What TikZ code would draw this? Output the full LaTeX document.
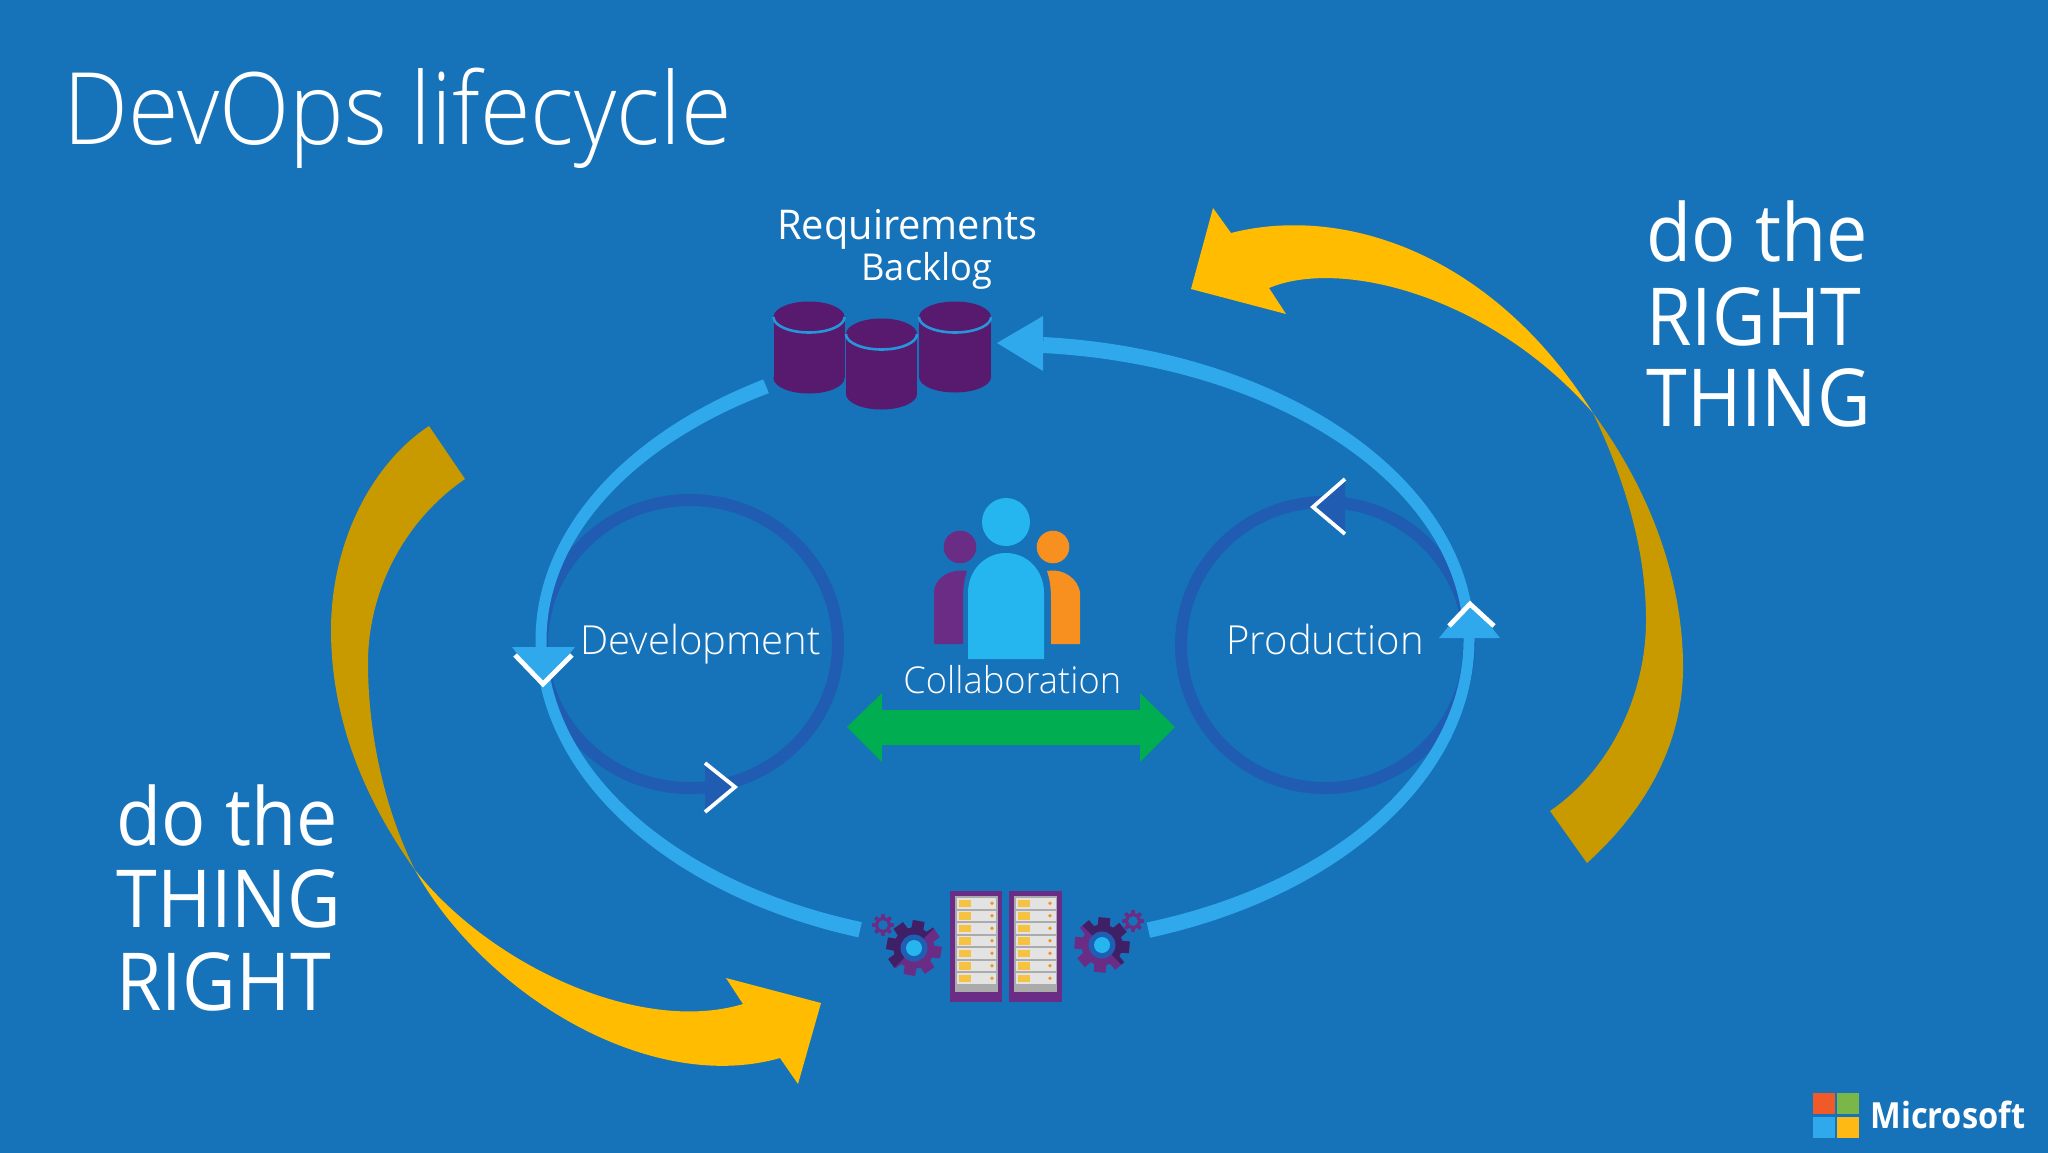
\documentclass[tikz,border=0pt]{standalone}
\usepackage{fontspec}
\usepackage{graphicx}
\setmainfont{Open Sans}
\newfontfamily\lightfont{Open Sans Light}
\definecolor{bgblue}{HTML}{1672B9}
\definecolor{sky}{HTML}{2FA9EC}
\definecolor{ringblue}{HTML}{1F5CB2}
\definecolor{goldbright}{HTML}{FFBC00}
\definecolor{golddark}{HTML}{C99A00}
\definecolor{cylpurple}{HTML}{581A6E}
\definecolor{rackpurple}{HTML}{6B2C85}
\definecolor{geardark}{HTML}{3F1F66}
\definecolor{peoplesky}{HTML}{25B6F0}
\definecolor{peopleorange}{HTML}{F7901E}
\definecolor{arrowgreen}{HTML}{00AD50}
\definecolor{slotyellow}{HTML}{F5C242}
\definecolor{panelgray}{HTML}{ABABAB}
\definecolor{rowgray}{HTML}{E3E3E3}
\definecolor{msred}{HTML}{F05A28}
\definecolor{msgreen}{HTML}{7AB648}
\definecolor{msyellow}{HTML}{FFB914}
\tikzset{
  ring line/.style={draw=ringblue,line width=6pt},
  chevron/.style={draw=white,line width=2.4pt,miter limit=10},
  chevron thin/.style={draw=white,line width=1.9pt,miter limit=10},
  label/.style={text=white,inner sep=0pt,anchor=base west},
  biglabel/.style={label,font=\fontsize{40}{40}\selectfont},
  midlabel/.style={label,font=\lightfont\fontsize{20}{20}\selectfont}
}
% #1 b, #2 start angle, #3 end angle: a band along the big ellipse
\newcommand\cycleband[3]{%
  \fill[sky] plot[domain=#2:#3,samples=70,smooth,variable=\t] ({1005+469.5*cos(\t)},{640+(#1+8)*sin(\t)})
    -- plot[domain=#3:#2,samples=70,smooth,variable=\t] ({1005+458.5*cos(\t)},{640+(#1-8)*sin(\t)}) -- cycle;
}
\newcommand\cylinder[5]{%
  \fill[cylpurple] ({#1-#4},#2) rectangle ({#1+#4},#3);
  \fill[cylpurple] (#1,#2) ellipse [x radius=#4,y radius=#5];
  \fill[cylpurple] (#1,#3) ellipse [x radius=#4,y radius=#5];
  \draw[sky!65!bgblue,line width=1.3pt,domain=0:180,samples=30,smooth,variable=\t]
    plot ({#1+#4*cos(\t)},{#2+#5*sin(\t)});
}
\newcommand\gearbody[2]{%
  \fill[#1] (#2-17:20.5)
    \foreach \a in {0,45,...,315}{ -- (\a+#2-17:20.5) -- (\a+#2-12:28) -- (\a+#2+12:28) -- (\a+#2+17:20.5) } -- cycle;
}
\newcommand\biggear[4]{%
  \begin{scope}[shift={(#1,#2)}]
    \gearbody{rackpurple}{#3}
    \begin{scope}
      \clip (#4:60) -- (#4+90:60) -- (#4+180:60) -- cycle;
      \gearbody{geardark}{#3}
    \end{scope}
    \fill[ringblue!85!bgblue] (0,0) circle [radius=13.5];
    \fill[peoplesky] (0,0) circle [radius=8];
  \end{scope}
}
\newcommand\smallgear[2]{%
  \begin{scope}[shift={(#1,#2)}]
    \fill[rackpurple,even odd rule] (0:8)
      \foreach \a in {0,45,...,315}{ -- (\a-14:8) -- (\a-9:11) -- (\a+9:11) -- (\a+14:8) } -- cycle
      (0,0) circle [radius=5];
  \end{scope}
}
\newcommand\rack[8]{%
  \fill[rackpurple] (#1,891) rectangle (#2,1002);
  \fill[panelgray] (#3,896) rectangle (#4,992);
  \foreach \i in {0,...,6}{
    \fill[rowgray] (#5,{898+12.5*\i}) rectangle (#6,{908.5+12.5*\i});
    \fill[slotyellow] (#7,{899.5+12.5*\i}) rectangle ({#7+12},{907+12.5*\i});
    \fill[peopleorange] (#8,{903.2+12.5*\i}) circle [radius=1.8];
  }
}
\begin{document}
\begin{tikzpicture}[x=0.5pt,y=-0.5pt]
\useasboundingbox (0,0) rectangle (2048,1152);
\fill[bgblue] (-6,-6) rectangle (2054,1158);

% inner rings
\draw[ring line] (690,644) ellipse [x radius=148,y radius=144];
\draw[ring line] (1325,645) ellipse [x radius=144,y radius=143];
\fill[ringblue] (705,762) -- (737,787) -- (705,813) -- cycle;
\fill[ringblue] (1345,478) -- (1311,507) -- (1345,535) -- cycle;
\draw[chevron thin] (705,763) -- (735,787) -- (705,812);
\draw[chevron thin] (1345,479) -- (1313,507) -- (1345,534);

% big cycle
\cycleband{305}{72}{0}
\cycleband{296}{0}{-85.3}
\cycleband{296}{239}{180}
\cycleband{305}{180}{108.2}
\fill[sky] (997,343) -- (1043,316) -- (1043,371) -- cycle;
\fill[sky] (512,647) -- (575,647) -- (543,687) -- cycle;
\fill[sky] (1439,638) -- (1500,638) -- (1470,600) -- cycle;
\draw[chevron] (515,655) -- (543,684) -- (572,655);
\draw[chevron] (1449,626) -- (1470,604) -- (1494,626);

% gold arrows
\fill[goldbright] (1593,413) .. controls (1490,250) and (1340,205) .. (1231,233) -- (1213,208) -- (1191,289) -- (1286,314) -- (1269,288) .. controls (1340,258) and (1490,295) .. (1593,413) -- cycle;
\fill[golddark] (1593,413) .. controls (1650,490) and (1683,580) .. (1683,667) .. controls (1683,750) and (1640,815) .. (1587,863) -- (1550,811) .. controls (1610,770) and (1646,695) .. (1646,620) .. controls (1646,550) and (1625,480) .. (1593,413) -- cycle;
\fill[golddark] (429,426) .. controls (370,465) and (331,545) .. (331,630) .. controls (331,720) and (365,800) .. (415,870) .. controls (385,810) and (368,735) .. (368,663) .. controls (368,590) and (405,520) .. (465,479) -- cycle;
\fill[goldbright] (415,870) .. controls (485,995) and (650,1095) .. (780,1058) -- (798,1084) -- (821,1003) -- (726,978) -- (743,1004) .. controls (640,1035) and (490,965) .. (415,870) -- cycle;

% cylinders
\cylinder{809}{317}{378}{35.5}{15.5}
\cylinder{955}{317}{377}{36}{15.5}
\cylinder{881.5}{334}{394}{35.5}{15.5}

% people
\fill[rackpurple] (960,547) circle [radius=16.3];
\fill[rackpurple] (934,644) -- (934,592) .. controls (934,580) and (948,568) .. (967,571) .. controls (964,580) and (963,588) .. (963,600) -- (963,644) -- cycle;
\fill[peopleorange] (1053,547) circle [radius=16.3];
\fill[peopleorange] (1080,644) -- (1080,592) .. controls (1078,580) and (1065,568) .. (1047,571) .. controls (1050,580) and (1051,588) .. (1051,600) -- (1051,644) -- cycle;
\fill[peoplesky] (1006,522) circle [radius=24];
\fill[peoplesky] (968,659) -- (968,593) .. controls (968,570) and (985,553) .. (1006,553) .. controls (1027,553) and (1044,570) .. (1044,593) -- (1044,659) -- cycle;

% green double arrow
\fill[arrowgreen] (847,727) -- (882,693) -- (882,710) -- (1140,710) -- (1140,693) -- (1175,727) -- (1140,762) -- (1140,745) -- (882,745) -- (882,762) -- cycle;

% servers
\rack{950}{1002}{955}{998}{957}{996}{959}{992}
\rack{1009}{1062}{1014}{1057}{1016}{1056}{1018}{1050}
\biggear{914}{948}{10}{135}
\biggear{1102}{945}{5}{225}
\smallgear{883}{925}
\smallgear{1133}{921}

% text
\node[label,font=\lightfont\fontsize{50}{50}\selectfont] (title) at (63,144) {\scalebox{.92}[1]{DevOps lifecycle}};
\node[label,font=\fontsize{20.5}{20.5}\selectfont] (req) at (777,239) {\scalebox{.97}[1]{Requirements}};
\node[label,font=\fontsize{18.5}{18.5}\selectfont] (backlog) at (861,280) {\scalebox{.98}[1]{Backlog}};
\node[midlabel] (dev) at (580,654) {Development};
\node[midlabel] (prod) at (1226,654) {Production};
\node[label,font=\lightfont\fontsize{18.5}{18.5}\selectfont] (collab) at (903,693) {\scalebox{.98}[1]{Collaboration}};
\node[biglabel] (r1) at (1646,261) {\scalebox{.92}[1]{do the}};
\node[biglabel] (r2) at (1646,345) {\scalebox{.92}[1]{RIGHT}};
\node[biglabel] (r3) at (1646,426) {\scalebox{.92}[1]{THING}};
\node[biglabel] (l1) at (116,845) {\scalebox{.92}[1]{do the}};
\node[biglabel] (l2) at (116,927) {\scalebox{.92}[1]{THING}};
\node[biglabel] (l3) at (116,1010) {\scalebox{.92}[1]{RIGHT}};

% logo
\fill[msred] (1813,1093) rectangle (1835,1114);
\fill[msgreen] (1837,1093) rectangle (1859,1114);
\fill[sky] (1813,1117) rectangle (1835,1138);
\fill[msyellow] (1837,1117) rectangle (1859,1138);
\node[label,font=\bfseries\fontsize{18}{18}\selectfont] (ms) at (1870,1128) {\scalebox{.905}[1]{Microsoft}};
\end{tikzpicture}
\end{document}
